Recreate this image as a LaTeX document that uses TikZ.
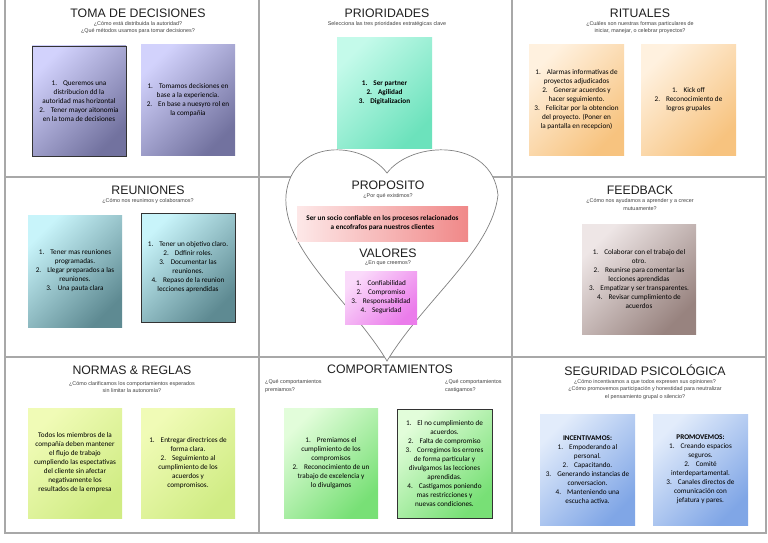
\documentclass[tikz,border=0pt]{standalone}
\usepackage{fontspec}
\setmainfont{Carlito}
\newfontfamily\hfont{Liberation Sans}
\usetikzlibrary{calc}
\definecolor{gridc}{HTML}{A8A8A8}
\definecolor{tomaA}{HTML}{D2D2FC}\definecolor{tomaB}{HTML}{72729F}
\definecolor{priA}{HTML}{C4FAEA}\definecolor{priB}{HTML}{6CE2BC}
\definecolor{ritA}{HTML}{FFF1DF}\definecolor{ritB}{HTML}{F7C37F}
\definecolor{reuA}{HTML}{C8F4FA}\definecolor{reuB}{HTML}{5E8A92}
\definecolor{feeA}{HTML}{EEE6E6}\definecolor{feeB}{HTML}{98837F}
\definecolor{proA}{HTML}{FDE8E8}\definecolor{proB}{HTML}{F08888}
\definecolor{valA}{HTML}{FADAFA}\definecolor{valB}{HTML}{EB7CEB}
\definecolor{norA}{HTML}{F0FBB6}\definecolor{norB}{HTML}{D0EC84}
\definecolor{comA}{HTML}{E2FDDA}\definecolor{comB}{HTML}{78E076}
\definecolor{segA}{HTML}{E2ECFB}\definecolor{segB}{HTML}{80A6E6}
\newcommand\numi[1]{#1.\hspace{6pt}}
\tikzset{
  gridline/.style={draw=gridc, line width=1.2pt},
  ttl/.style={font=\hfont\fontsize{12.3}{14}\selectfont, text=black!88, inner sep=0pt},
  sub/.style={font=\hfont\fontsize{5.4}{7.6}\selectfont, text=black!75, align=center, inner sep=0pt},
  note/.style 2 args={top color=#1, bottom color=#2, shading angle=45,
    minimum width=94pt, minimum height=110pt, inner sep=1pt, align=center,
    font=\fontsize{7.2}{9}\selectfont, text=black},
  edge/.style={draw=black!80, line width=0.8pt}
}
\begin{document}
\begin{tikzpicture}[x=1pt,y=-1pt]
\useasboundingbox (0,0) rectangle (768,543);
\fill[white] (0,0) rectangle (768,543);
% grid
\draw[gridline] (5,0) -- (5,533) -- (766,533) -- (766,0);
\draw[gridline] (259,0) -- (259,533);
\draw[gridline] (512,0) -- (512,533);
\draw[gridline] (5,177) -- (766,177);
\draw[gridline] (5,357) -- (766,357);
% heart
\draw[fill=white, draw=black!50, line width=0.7pt]
  (387,173) .. controls (362,140) and (292,138) .. (286,195)
  .. controls (282,250) and (350,300) .. (387,361)
  .. controls (424,300) and (492,250) .. (498,195)
  .. controls (492,138) and (412,140) .. cycle;

% TOMA DE DECISIONES
\node[ttl] (tomaT) at (138,13) {TOMA DE DECISIONES};
\node[sub] (tomaS) at (138,27.5) {¿Cómo está distribuida la autoridad?\\¿Qué métodos usamos para tomar decisiones?};
\node[note={tomaA}{tomaB}, edge] (toma1) at (79,101) {\numi{1}Queremos una\\distribucion dd la\\autoridad mas horizontal\\\numi{2}Tener mayor aitonomia\\en la toma de decisiones};
\node[note={tomaA}{tomaB}] (toma2) at (188,100) {\numi{1}Tomamos decisiones en\\base a la experiencia.\\\numi{2}En base a nuesyro rol en\\la compañia};

% PRIORIDADES
\node[ttl] (priT) at (387,13) {PRIORIDADES};
\node[sub] (priS) at (387,24) {Selecciona las tres prioridades estratégicas clave};
\node[note={priA}{priB}, minimum width=95pt, font=\bfseries\fontsize{7.2}{9}\selectfont] (pri1) at (384.5,93) {\numi{1}Ser partner\\\numi{2}Agilidad\\\numi{3}Digitalizacion};

% RITUALES
\node[ttl] (ritT) at (640,13) {RITUALES};
\node[sub] (ritS) at (640,27.5) {¿Cuáles son nuestras formas particulares de\\iniciar, manejar, o celebrar proyectos?};
\node[note={ritA}{ritB}, minimum width=95pt] (rit1) at (576.5,100) {\numi{1}Alarmas informativas de\\proyectos adjudicados\\\numi{2}Generar acuerdos y\\hacer seguimiento.\\\numi{3}Felicitar por la obtencion\\del proyecto. (Poner en\\la pantalla en recepcion)};
\node[note={ritA}{ritB}, minimum width=95pt] (rit2) at (688.5,100) {\numi{1}Kick off\\\numi{2}Reconocimiento de\\logros grupales};

% REUNIONES
\node[ttl] (reuT) at (148,190) {REUNIONES};
\node[sub] (reuS) at (148,201) {¿Cómo nos reunimos y colaboramos?};
\node[note={reuA}{reuB}, minimum height=112pt] (reu1) at (75,271) {\numi{1}Tener mas reuniones\\programadas.\\\numi{2}Llegar preparados a las\\reuniones.\\\numi{3}Una pauta clara};
\node[note={reuA}{reuB}, minimum height=109pt, edge] (reu2) at (188,267.5) {\numi{1}Tener un objetivo claro.\\\numi{2}Ddfinir roles.\\\numi{3}Documentar las\\reuniones.\\\numi{4}Repaso de la reunion\\lecciones aprendidas};

% PROPOSITO / VALORES
\node[ttl] (proT) at (388,185) {PROPOSITO};
\node[sub] (proS) at (388,196) {¿Por qué existimos?};
\node[note={proA}{proB}, shading angle=90, minimum width=171pt, minimum height=35pt, font=\bfseries\fontsize{7.2}{9}\selectfont] (pro1) at (382.5,223.5) {Ser un socio confiable en los procesos relacionados\\a encofrafos para nuestros clientes};
\node[ttl] (valT) at (388,253) {VALORES};
\node[sub] (valS) at (388,263.5) {¿En que creemos?};
\node[note={valA}{valB}, minimum width=72pt, minimum height=53pt] (val1) at (381,297.5) {\numi{1}Confiabilidad\\\numi{2}Compromiso\\\numi{3}Responsabilidad\\\numi{4}Seguridad};

% FEEDBACK
\node[ttl] (feeT) at (640,190) {FEEDBACK};
\node[sub] (feeS) at (640,204.5) {¿Cómo nos ayudamos a aprender y a crecer\\mutuamente?};
\node[note={feeA}{feeB}, minimum width=114pt] (fee1) at (639,279) {\numi{1}Colaborar con el trabajo del\\otro.\\\numi{2}Reunirse para comentar las\\lecciones aprendidas\\\numi{3}Empatizar y ser transparentes.\\\numi{4}Revisar cumplimiento de\\acuerdos};

% NORMAS & REGLAS
\node[ttl] (norT) at (132,370) {NORMAS \& REGLAS};
\node[sub] (norS) at (132,387) {¿Cómo clarificamos los comportamientos esperados\\sin limitar la autonomía?};
\node[note={norA}{norB}] (nor1) at (75,463) {Todos los miembros de la\\compañía deben mantener\\el flujo de trabajo\\cumpliendo las espectativas\\del cliente sin afectar\\negativamente los\\resultados de la empresa};
\node[note={norA}{norB}] (nor2) at (188,463) {\numi{1}Entregar directrices de\\forma clara.\\\numi{2}Seguimiento al\\cumplimiento de los\\acuerdos y\\compromisos.};

% COMPORTAMIENTOS
\node[ttl] (comT) at (390,369) {COMPORTAMIENTOS};
\node[sub, align=left, anchor=west] (comS1) at (265,386) {¿Qué comportamientos\\premiamos?};
\node[sub, align=left, anchor=west] (comS2) at (445,386) {¿Qué comportamientos\\castigamos?};
\node[note={comA}{comB}] (com1) at (331,463) {\numi{1}Premiamos el\\cumplimiento de los\\compromisos\\\numi{2}Reconocimiento de un\\trabajo de excelencia y\\lo divulgamos};
\node[note={comA}{comB}, minimum width=95pt, minimum height=109pt, edge] (com2) at (444.5,463.5) {\numi{1}El no cumplimiento de\\acuerdos.\\\numi{2}Falta de compromiso\\\numi{3}Corregimos los errores\\de forma particular y\\divulgamos las lecciones\\aprendidas.\\\numi{4}Castigamos poniendo\\mas restricciones y\\nuevas condiciones.};

% SEGURIDAD PSICOLOGICA
\node[ttl] (segT) at (645,370) {SEGURIDAD PSICOLÓGICA};
\node[sub] (segS) at (645,389.5) {¿Cómo incentivamos a que todos expresen sus opiniones?\\¿Cómo promovemos participación y honestidad para neutralizar\\el pensamiento grupal o silencio?};
\node[note={segA}{segB}, minimum width=95pt, minimum height=111pt] (seg1) at (587.5,469.5) {\textbf{INCENTIVAMOS:}\\\numi{1}Empoderando al\\personal.\\\numi{2}Capacitando.\\\numi{3}Generando instancias de\\conversacion.\\\numi{4}Manteniendo una\\escucha activa.};
\node[note={segA}{segB}, minimum width=95pt, minimum height=111pt] (seg2) at (700.5,469.5) {\textbf{PROMOVEMOS:}\\\numi{1}Creando espacios\\seguros.\\\numi{2}Comité\\interdepartamental.\\\numi{3}Canales directos de\\comunicación con\\jefatura y pares.};
\end{tikzpicture}
\end{document}
